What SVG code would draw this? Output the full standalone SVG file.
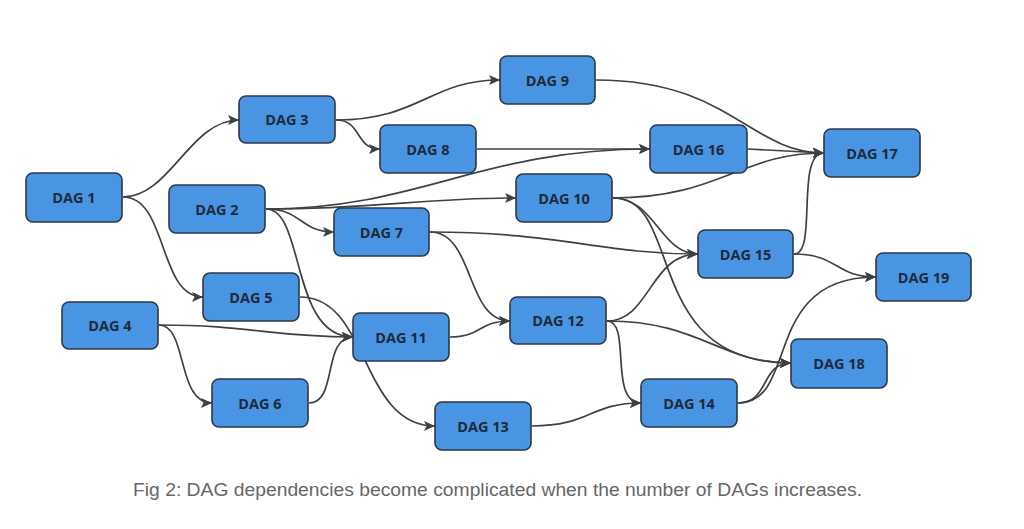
<svg xmlns="http://www.w3.org/2000/svg" width="1024" height="529" viewBox="0 0 1024 529">
<defs>
<style>
.n rect{fill:#4a95e3;stroke:#2b3848;stroke-width:1.6}
.n text{font-family:"Open Sans","DejaVu Sans",sans-serif;font-weight:700;font-size:14.5px;fill:#1d2b3b;text-anchor:middle;dominant-baseline:central}
#edges path{fill:none;stroke:#3d4146;stroke-width:1.7;marker-end:url(#ah)}
.cap{font-family:"Liberation Sans",Arial,sans-serif;font-size:18px;fill:#666666}
</style>
<marker id="ah" markerUnits="userSpaceOnUse" markerWidth="12" markerHeight="11" refX="11" refY="5" orient="auto" viewBox="0 0 12 11">
<path d="M0,0 L11,5 L0,10 L2.5,5 z" fill="#3d4146"/>
</marker>
</defs>
<rect width="1024" height="529" fill="#ffffff"/>
<g id="edges">
<path d="M123,197 C170,197 190,120 239,120"/>
<path d="M123,197 C168,197 158,297 203,297"/>
<path d="M336,120 C420,120 430,80 500,80"/>
<path d="M336,120 C362,120 355,149 380,149"/>
<path d="M477,149 L650,149"/>
<path d="M266,209 C420,209 480,149 650,149"/>
<path d="M266,209 C380,209 420,198 516,198"/>
<path d="M266,209 C302,209 300,232 334,232"/>
<path d="M266,209 C305,209 290,337 353,337"/>
<path d="M159,325 C250,325 270,337 353,337"/>
<path d="M159,325 C188,325 176,403 212,403"/>
<path d="M309,403 C338,403 322,337 353,337"/>
<path d="M300,297 C370,297 360,426 435,426"/>
<path d="M430,232 C475,232 465,321 510,321"/>
<path d="M430,232 C560,232 600,254 698,254"/>
<path d="M450,337 C482,337 478,321 510,321"/>
<path d="M532,426 C590,426 590,403 641,403"/>
<path d="M596,80 C730,80 750,153 824,153"/>
<path d="M748,149 L824,153"/>
<path d="M613,198 C720,198 740,153 824,153"/>
<path d="M613,198 C655,198 660,254 698,254"/>
<path d="M613,198 C685,198 640,363 791,363"/>
<path d="M607,321 C650,321 650,254 698,254"/>
<path d="M607,321 C700,321 720,363 791,363"/>
<path d="M607,321 C632,321 608,403 641,403"/>
<path d="M738,403 C770,403 760,363 791,363"/>
<path d="M738,403 C800,403 760,277 876,277"/>
<path d="M794,254 C818,254 795,153 824,153"/>
<path d="M794,254 C838,254 835,277 876,277"/>
</g>
<g id="dag1" class="n"><rect x="26" y="173" width="96" height="49" rx="7"/><text x="74" y="197.5">DAG 1</text></g>
<g id="dag2" class="n"><rect x="169" y="185" width="96" height="48" rx="7"/><text x="217" y="209">DAG 2</text></g>
<g id="dag3" class="n"><rect x="239" y="96" width="96" height="47" rx="7"/><text x="287" y="119.5">DAG 3</text></g>
<g id="dag4" class="n"><rect x="62" y="302" width="96" height="47" rx="7"/><text x="110" y="325.5">DAG 4</text></g>
<g id="dag5" class="n"><rect x="203" y="273" width="96" height="48" rx="7"/><text x="251" y="297">DAG 5</text></g>
<g id="dag6" class="n"><rect x="212" y="379" width="96" height="48" rx="7"/><text x="260" y="403">DAG 6</text></g>
<g id="dag7" class="n"><rect x="334" y="208" width="95" height="48" rx="7"/><text x="381.5" y="232">DAG 7</text></g>
<g id="dag8" class="n"><rect x="380" y="125" width="96" height="48" rx="7"/><text x="428" y="149">DAG 8</text></g>
<g id="dag9" class="n"><rect x="500" y="56" width="95" height="48" rx="7"/><text x="547.5" y="80">DAG 9</text></g>
<g id="dag10" class="n"><rect x="516" y="174" width="96" height="48" rx="7"/><text x="564" y="198">DAG 10</text></g>
<g id="dag11" class="n"><rect x="353" y="313" width="96" height="48" rx="7"/><text x="401" y="337">DAG 11</text></g>
<g id="dag12" class="n"><rect x="510" y="297" width="96" height="47" rx="7"/><text x="558" y="320.5">DAG 12</text></g>
<g id="dag13" class="n"><rect x="435" y="402" width="96" height="48" rx="7"/><text x="483" y="426">DAG 13</text></g>
<g id="dag14" class="n"><rect x="641" y="379" width="96" height="48" rx="7"/><text x="689" y="403">DAG 14</text></g>
<g id="dag15" class="n"><rect x="698" y="230" width="95" height="48" rx="7"/><text x="745.5" y="254">DAG 15</text></g>
<g id="dag16" class="n"><rect x="650" y="125" width="97" height="48" rx="7"/><text x="698.5" y="149">DAG 16</text></g>
<g id="dag17" class="n"><rect x="824" y="129" width="96" height="48" rx="7"/><text x="872" y="153">DAG 17</text></g>
<g id="dag18" class="n"><rect x="791" y="339" width="96" height="49" rx="7"/><text x="839" y="363.5">DAG 18</text></g>
<g id="dag19" class="n"><rect x="876" y="253" width="95" height="48" rx="7"/><text x="923.5" y="277">DAG 19</text></g>
<text class="cap" x="133" y="496" textLength="729" lengthAdjust="spacingAndGlyphs">Fig 2: DAG dependencies become complicated when the number of DAGs increases.</text>
</svg>
